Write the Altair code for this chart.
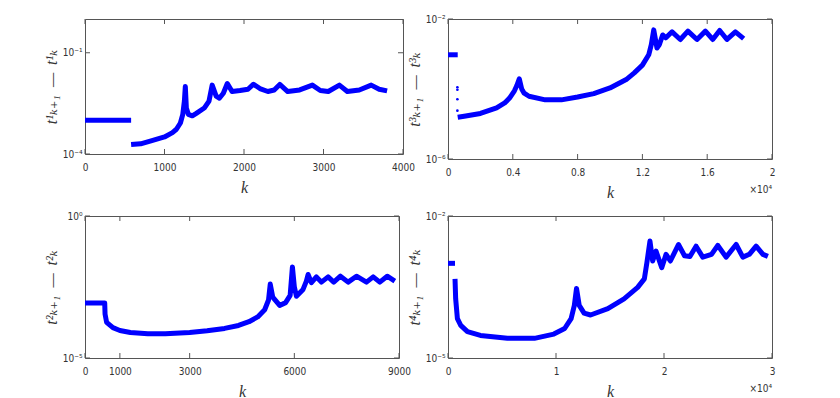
import altair as alt
import pandas as pd

BLUE = "#0000ff"
LABEL_FONT = "Liberation Sans Narrow, DejaVu Sans Condensed, Arial Narrow, sans-serif"
SERIF = "Liberation Serif, DejaVu Serif, serif"
SP = "\u00a0\u00a0"

# ---------------- Panel 1 : t^1 ----------------
p1_flat_k = [0, 580]
p1_flat_v = [1.0e-3, 1.0e-3]
p1_k = [580, 700, 820, 1000, 1100, 1150, 1200, 1230, 1250, 1262, 1275, 1300, 1350, 1400,
        1500, 1560, 1600, 1650, 1690, 1740, 1790, 1850, 1950, 2050, 2120, 2200, 2300,
        2380, 2450, 2550, 2700, 2860, 2960, 3060, 3200, 3300, 3450, 3600, 3700, 3800]
p1_v = [1.9e-4, 2.0e-4, 2.4e-4, 3.2e-4, 4.3e-4, 5.4e-4, 8.3e-4, 1.5e-3, 3.7e-3, 1.0e-2,
        2.3e-3, 1.5e-3, 1.35e-3, 1.6e-3, 2.3e-3, 3.7e-3, 1.1e-2, 5.2e-3, 4.5e-3, 6.3e-3,
        1.23e-2, 7.1e-3, 7.6e-3, 8.3e-3, 1.17e-2, 8.7e-3, 7.1e-3, 7.9e-3, 1.15e-2, 7.1e-3,
        7.9e-3, 1.1e-2, 7.6e-3, 7.1e-3, 1.1e-2, 7.1e-3, 7.9e-3, 1.1e-2, 8.3e-3, 7.4e-3]
p1_xticks = [0, 1000, 2000, 3000, 4000]
p1_yticks = [1e-4, 1e-1]
p1_ylabels = ["10⁻⁴", "10⁻¹"]

# ---------------- Panel 2 : t^3 ----------------
p2_flat_k = [0, 600]
p2_flat_v = [9.5e-4, 9.5e-4]
p2_dot_k = [580, 580, 580, 580]
p2_dot_v = [1.12e-4, 9.5e-5, 5.1e-5, 2.4e-5]
p2_k = [600, 1000, 2000, 3000, 3500, 3800, 4100, 4250, 4400, 4550, 4700, 5000, 6000, 7000,
        8000, 9000, 10000, 11000, 11500, 12000, 12390, 12550, 12700, 12900, 13050, 13250,
        13450, 13830, 14340, 14810, 15370, 15890, 16340, 16770, 17220, 17740, 18250]
p2_v = [1.55e-5, 1.66e-5, 2.0e-5, 2.9e-5, 4.0e-5, 5.5e-5, 8.9e-5, 1.26e-4, 1.95e-4, 1.0e-4,
        7.6e-5, 6.2e-5, 4.9e-5, 4.9e-5, 5.9e-5, 7.4e-5, 1.07e-4, 1.86e-4, 2.9e-4, 4.8e-4,
        9.5e-4, 1.86e-3, 4.9e-3, 1.48e-3, 1.86e-3, 3.5e-3, 2.9e-3, 4.3e-3, 2.6e-3, 4.5e-3,
        2.6e-3, 4.5e-3, 2.6e-3, 4.7e-3, 2.6e-3, 4.3e-3, 2.75e-3]
p2_xticks = [0, 4000, 8000, 12000, 16000, 20000]
p2_yticks = [1e-6, 1e-2]
p2_ylabels = ["10⁻⁶", "10⁻²"]

# ---------------- Panel 3 : t^2 ----------------
p3_k = [0, 565, 575, 620, 800, 1000, 1300, 1800, 2300, 3000, 3500, 4000, 4400, 4700, 4950,
        5150, 5260, 5310, 5380, 5580, 5750, 5880, 5945, 6000, 6060, 6250, 6345, 6394, 6489,
        6632, 6776, 6968, 7130, 7321, 7542, 7781, 8068, 8260, 8450, 8662, 8880]
p3_v = [8.7e-4, 8.7e-4, 3.5e-4, 1.8e-4, 1.17e-4, 9.3e-5, 7.9e-5, 7.1e-5, 7.1e-5, 7.9e-5,
        9.1e-5, 1.1e-4, 1.4e-4, 1.9e-4, 2.8e-4, 5.0e-4, 1.1e-3, 4.0e-3, 1.4e-3, 7.1e-4,
        8.9e-4, 1.6e-3, 1.6e-2, 3.2e-3, 1.5e-3, 2.6e-3, 5.1e-3, 8.7e-3, 4.5e-3, 7.2e-3,
        4.7e-3, 7.2e-3, 4.7e-3, 7.6e-3, 4.7e-3, 7.6e-3, 4.7e-3, 7.2e-3, 4.7e-3, 7.6e-3, 5.1e-3]
p3_xticks = [0, 1000, 3000, 6000, 9000]
p3_yticks = [1e-5, 1e0]
p3_ylabels = ["10⁻⁵", "10⁰"]

# ---------------- Panel 4 : t^4 ----------------
p4_flat_k = [0, 650]
p4_flat_v = [1.0e-3, 1.0e-3]
p4_k = [650, 710, 870, 1180, 1800, 3000, 5500, 8000, 9800, 10800, 11400, 11700, 11900,
        12150, 12600, 13200, 14800, 16300, 17560, 18180, 18420, 18700, 18950, 19260, 19790,
        20190, 20590, 21340, 21900, 22400, 22970, 23590, 24400, 24980, 25750, 26680, 27300,
        27900, 28530, 29160, 29620]
p4_v = [4.7e-4, 1.78e-4, 6.8e-5, 4.9e-5, 3.6e-5, 3.0e-5, 2.6e-5, 2.6e-5, 3.2e-5, 4.2e-5,
        6.8e-5, 1.29e-4, 2.95e-4, 1.29e-4, 8.9e-5, 8.1e-5, 1.1e-4, 1.78e-4, 3.1e-4, 4.7e-4,
        1.05e-3, 2.95e-3, 1.12e-3, 1.82e-3, 8.1e-4, 1.55e-3, 1.12e-3, 2.5e-3, 1.45e-3,
        1.4e-3, 2.3e-3, 1.35e-3, 1.55e-3, 2.4e-3, 1.35e-3, 2.5e-3, 1.35e-3, 1.55e-3, 2.3e-3,
        1.55e-3, 1.4e-3]
p4_xticks = [0, 10000, 20000, 30000]
p4_yticks = [1e-5, 1e-2]
p4_ylabels = ["10⁻⁵", "10⁻²"]


def label_expr(values, labels):
    expr = "''"
    for v, lab in zip(values, labels):
        expr = f"abs(datum.value - {v}) < {v} * 1e-6 ? '{lab}' : {expr}"
    return expr


def panel(segments, xdom, xticks, ydom, yticks, ylabels, ytitle, w, h,
          scale1e4=False, dots=None):
    rows = []
    for sid, (ks, vs) in enumerate(segments):
        for k, v in zip(ks, vs):
            rows.append({"k": k, "v": v, "seg": f"s{sid}"})
    df = pd.DataFrame(rows)
    xs = alt.Scale(domain=xdom, nice=False, zero=False)
    ys = alt.Scale(type="log", domain=ydom, nice=False)
    xax = alt.Axis(values=xticks, labelPadding=8, titlePadding=7, titleFontSize=16,
                   labelFlush=False, labelOverlap=False,
                   labelExpr="format(datum.value / 10000, '~g')" if scale1e4 else "format(datum.value, 'd')")
    yax = alt.Axis(values=yticks, labelPadding=3, titlePadding=3, titleFontSize=16,
                   labelFlush=False, labelOverlap=False,
                   labelExpr=label_expr(yticks, ylabels))
    X = alt.X("k:Q", scale=xs, axis=xax, title="k")
    Y = alt.Y("v:Q", scale=ys, axis=yax, title=ytitle)

    line = alt.Chart(df).mark_line(color=BLUE, strokeWidth=5, strokeJoin="round",
                                   strokeCap="butt").encode(x=X, y=Y, detail="seg:N")
    layers = [line]
    if dots is not None:
        ddf = pd.DataFrame({"k": dots[0], "v": dots[1]})
        layers.append(alt.Chart(ddf).mark_circle(color=BLUE, size=7, opacity=1)
                      .encode(x=X, y=Y))
    xt = pd.DataFrame({"k": xticks})
    yt = pd.DataFrame({"v": yticks})
    tick_style = dict(color="#555", strokeWidth=1)
    layers += [
        alt.Chart(xt).mark_rule(**tick_style).encode(x=X, y=alt.value(h), y2=alt.value(h - 5)),
        alt.Chart(xt).mark_rule(**tick_style).encode(x=X, y=alt.value(0), y2=alt.value(5)),
        alt.Chart(yt).mark_rule(**tick_style).encode(y=Y, x=alt.value(0), x2=alt.value(5)),
        alt.Chart(yt).mark_rule(**tick_style).encode(y=Y, x=alt.value(w - 5), x2=alt.value(w)),
    ]
    if scale1e4:
        tdf = pd.DataFrame({"t": ["×10⁴"]})
        layers.append(alt.Chart(tdf).mark_text(align="right", baseline="alphabetic",
                                               font=LABEL_FONT, fontSize=10, color="#333")
                      .encode(x=alt.value(w), y=alt.value(h + 34), text="t:N"))
    return alt.layer(*layers).properties(width=w, height=h)


def ytitle(i):
    return f"t{i}ₖ₊₁{SP}—{SP}t{i}ₖ"


p1 = panel([(p1_flat_k, p1_flat_v), (p1_k, p1_v)], [0, 4000], p1_xticks, [1e-4, 1e0],
           p1_yticks, p1_ylabels, ytitle("¹"), 318, 135)
p2 = panel([(p2_flat_k, p2_flat_v), (p2_k, p2_v)], [0, 20000], p2_xticks, [1e-6, 1e-2],
           p2_yticks, p2_ylabels, ytitle("³"), 324, 140, scale1e4=True,
           dots=(p2_dot_k, p2_dot_v))
p3 = panel([(p3_k, p3_v)], [0, 9000], p3_xticks, [1e-5, 1e0],
           p3_yticks, p3_ylabels, ytitle("²"), 314, 142)
p4 = panel([(p4_flat_k, p4_flat_v), (p4_k, p4_v)], [0, 30000], p4_xticks, [1e-5, 1e-2],
           p4_yticks, p4_ylabels, ytitle("⁴"), 324, 142, scale1e4=True)

chart = alt.concat(
    p1, p2, p3, p4, columns=2, spacing={"row": 57, "column": 45}, bounds="flush"
).resolve_scale(
    x="independent", y="independent"
).properties(
    padding={"left": 34, "top": 5, "right": 5, "bottom": 5}
).configure_view(
    stroke="#555", strokeWidth=1
).configure_axis(
    domain=False, ticks=False, grid=False,
    labelFont=LABEL_FONT, labelFontSize=10, labelColor="#333",
    titleFont=SERIF, titleFontStyle="italic", titleFontWeight="normal", titleColor="#333"
)

chart.save("out.html", embed_options={"renderer": "svg", "actions": False})
